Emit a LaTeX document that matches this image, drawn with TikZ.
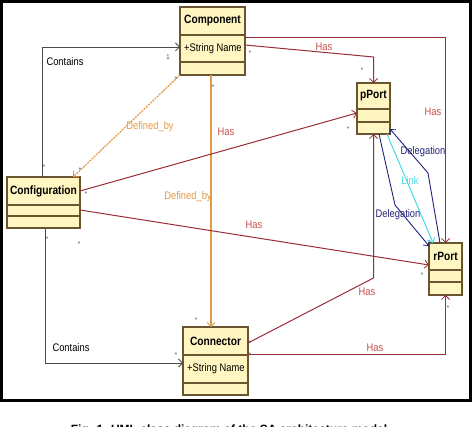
\documentclass[tikz,border=0pt]{standalone}
\usepackage{fontspec}
\setmainfont{Liberation Sans}[FakeStretch=0.85]
\newfontfamily\capfont{Liberation Sans}
\usetikzlibrary{arrows.meta}
\definecolor{boxfill}{HTML}{FFF6C2}
\definecolor{boxline}{HTML}{6B5530}
\definecolor{hasline}{HTML}{9A2E35}
\definecolor{haslabel}{HTML}{C8504A}
\definecolor{defcol}{HTML}{E39A45}
\definecolor{delcol}{HTML}{22227A}
\definecolor{linkcol}{HTML}{48D8E6}
\definecolor{conline}{HTML}{4A4A4A}
\newcommand\umlbox[8]{%
  \node[cls, minimum width=#4, minimum height=#5] (#1) at (#2,#3) {};
  \draw[sepline] ([yshift=-#6]#1.north west) -- ([yshift=-#6]#1.north east);
  \draw[sepline] ([yshift=-#7]#1.north west) -- ([yshift=-#7]#1.north east);
  \node[titletext] (#1-t) at ([yshift=-#6/2]#1.north) {#8};
}
\begin{document}
\begin{tikzpicture}[x=1pt,y=-1pt,
  cls/.style={draw=boxline, fill=boxfill, line width=1.3pt, anchor=north west, inner sep=0pt, outer sep=0pt},
  sepline/.style={draw=boxline, line width=1.3pt},
  titletext/.style={font=\fontsize{12}{14}\selectfont\bfseries, inner sep=0pt},
  attrtext/.style={font=\fontsize{11}{13}\selectfont, inner sep=0pt, anchor=west},
  lbl/.style={font=\fontsize{11}{13}\selectfont, inner sep=0pt},
  mult/.style={font=\fontsize{7}{8}\selectfont, inner sep=0pt, text=black!70},
  tip/.style={-{Straight Barb[length=4pt,width=8pt,line width=0.8pt]}},
  conedge/.style={draw=conline, line width=0.9pt, tip},
  hasedge/.style={draw=hasline, line width=1pt, tip},
  defedge/.style={draw=defcol, line width=1.2pt, tip},
  deledge/.style={draw=delcol, line width=0.9pt, tip},
  linkedge/.style={draw=linkcol, line width=1pt, tip},
]
\useasboundingbox (0,0) rectangle (474,427);
\fill[white] (0,0) rectangle (474,427);

% classes
\umlbox{comp}{180}{7}{65}{68}{28}{55}{Component}
\node[attrtext] (comp-a) at ([xshift=4,yshift=-41.5]comp.north west) {+String Name};
\umlbox{pport}{357}{83}{33}{51}{26}{39}{pPort}
\umlbox{rport}{429}{243}{33}{52}{27}{39}{rPort}
\umlbox{conf}{7}{177}{73}{51}{28}{39}{Configuration}
\umlbox{conn}{183}{327}{65}{68}{28}{56}{Connector}
\node[attrtext] (conn-a) at ([xshift=4,yshift=-42]conn.north west) {+String Name};

% helper coordinates
\coordinate (vx) at (211,0);
\coordinate (h1) at (0,57);
\coordinate (h2) at (0,278);
\coordinate (d1) at (395,205);
\coordinate (d2) at (428,173);

% Contains
\draw[conedge] ([xshift=35]conf.north west) |- ([yshift=-6]comp.west);
\draw[conedge] ([xshift=38]conf.south west) |- ([yshift=-2]conn.west);

% Defined_by
\draw[defedge, dash pattern=on 2pt off 1pt] (comp.south west) -- ([xshift=-7]conf.north east);
\draw[defedge] (comp.south -| vx) -- (conn.north -| vx);

% Has
\draw[hasedge] ([yshift=11.5]conf.east) -- ([yshift=-4.5]pport.west);
\draw[hasedge] ([yshift=-7.5]conf.east) -- ([yshift=4]rport.west);
\draw[hasedge] ([yshift=-4]comp.east) -- (h1 -| pport.north) -- (pport.north);
\draw[hasedge] ([yshift=3]comp.east) -| (rport.north);
\draw[hasedge] ([yshift=18]conn.east) -- (h2 -| pport.south) -- (pport.south);
\draw[hasedge] ([yshift=6]conn.east) -| (rport.south);

% Delegation and Link
\draw[deledge] ([xshift=5.5]pport.south) -- (d1) -- ([yshift=-3]rport.north west);
\draw[deledge] ([xshift=-5.5]rport.north) -- (d2) -- ([yshift=5]pport.south east);
\draw[linkedge] ([xshift=-3]pport.south east) -- ([xshift=4]rport.north west);

% labels
\node[lbl] (l1) at (65,62) {Contains};
\node[lbl] (l2) at (71,348) {Contains};
\node[lbl, text=defcol] (l3) at (150,127) {Defined\_by};
\node[lbl, text=defcol] (l4) at (188,197) {Defined\_by};
\node[lbl, text=haslabel] (l5) at (226,132) {Has};
\node[lbl, text=haslabel] (l6) at (324,47) {Has};
\node[lbl, text=haslabel] (l7) at (433,112) {Has};
\node[lbl, text=haslabel] (l8) at (254,225) {Has};
\node[lbl, text=haslabel] (l9) at (367,292) {Has};
\node[lbl, text=haslabel] (l10) at (375,348) {Has};
\node[lbl, text=delcol] (l11) at (423,152) {Delegation};
\node[lbl, text=delcol] (l12) at (398,215) {Delegation};
\node[lbl, text=linkcol] (l13) at (410,181) {Link};

% multiplicities
\node[mult] (m1) at (168,57) {1};
\node[mult] (m2) at (44,167) {*};
\node[mult] (m3) at (80,170) {*};
\node[mult] (m4) at (176,79) {*};
\node[mult] (m5) at (213,87) {*};
\node[mult] (m6) at (86,194) {*};
\node[mult] (m7) at (47,239) {*};
\node[mult] (m8) at (79,244) {*};
\node[mult] (m9) at (176,355) {*};
\node[mult] (m10) at (196,320) {*};
\node[mult] (m11) at (250,53) {*};
\node[mult] (m12) at (362,70) {*};
\node[mult] (m13) at (348,129) {*};
\node[mult] (m14) at (422,275) {*};
\node[mult] (m15) at (250,343) {*};
\node[mult] (m16) at (250,355) {*};
\node[mult] (m17) at (448,308) {*};

% frame
\draw[line width=3pt] (1.5,1.5) rectangle (470,401);

% caption (cut off at the bottom, as in the reference)
\node[font=\capfont\fontsize{12}{14}\selectfont\bfseries, anchor=north, inner sep=0pt] (cap) at (229,425) {Fig. 1. UML class diagram of the SA architecture model};
\end{tikzpicture}
\end{document}
